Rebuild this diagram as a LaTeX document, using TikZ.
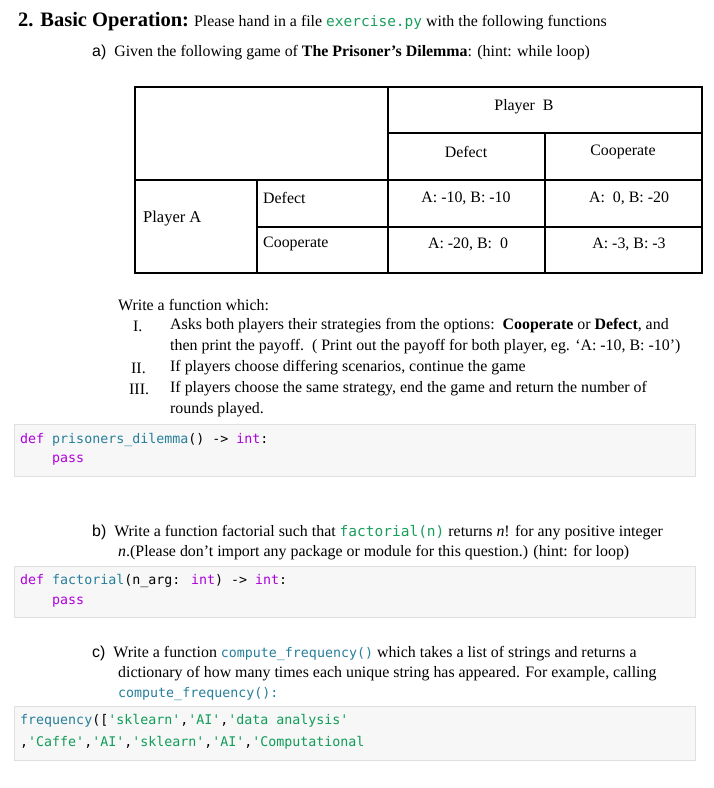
\documentclass[tikz,border=0pt]{standalone}
\usepackage{fontspec}
\setmainfont{Liberation Serif}
\newfontfamily\codefont{DejaVu Sans Mono}
\newfontfamily\arial{Liberation Sans}
\definecolor{kw}{HTML}{AF00DB}
\definecolor{fn}{HTML}{267F99}
\definecolor{st}{HTML}{0F9D58}
\definecolor{cg}{HTML}{1A9E5C}
\definecolor{cbg}{HTML}{F7F7F7}
\definecolor{cbd}{HTML}{E0E0E0}
\begin{document}
\begin{tikzpicture}[x=1pt,y=-1pt,
  txt/.style={anchor=west,inner sep=0pt,font=\fontsize{15.9}{18}\selectfont},
  cell/.style={anchor=center,inner sep=0pt,font=\fontsize{15.9}{18}\selectfont},
  code/.style={anchor=west,inner sep=0pt,font=\codefont\fontsize{13.3}{15}\selectfont},
  codebox/.style={fill=cbg,draw=cbd,line width=1pt},
  grid/.style={line width=1.3pt}]
\useasboundingbox (0,0) rectangle (714,788);
\node[txt] (title) at (18,22) {\fontsize{20.5}{23}\selectfont\textbf{2. Basic Operation:}\ \fontsize{15.9}{18}\selectfont Please hand in a file {\codefont\color{cg}\fontsize{14.5}{16}\selectfont exercise.py} with the following functions};
\node[txt] (a) at (92,52) {{\arial a)}\ \ Given the following game of \textbf{The Prisoner’s Dilemma}: (hint: while loop)};
% table
\draw[grid] (135,87) rectangle (702,273);
\draw[grid] (388,87) -- (388,273);
\draw[grid] (545,133) -- (545,273);
\draw[grid] (257,180) -- (257,273);
\draw[grid] (388,133) -- (702,133);
\draw[grid] (135,180) -- (702,180);
\draw[grid] (257,227) -- (702,227);
\node[cell] (pb) at (524,107) {Player\ \ B};
\node[cell] (cd) at (466,152) {Defect};
\node[cell] (cc) at (623,152) {Cooperate};
\node[txt] (pa) at (143,219) {\fontsize{16.5}{18}\selectfont Player A};
\node[txt] (rd) at (263,198) {Defect};
\node[txt] (rc) at (263,244) {Cooperate};
\node[cell] (v1) at (466,198) {A: -10, B: -10};
\node[cell] (v2) at (629,198) {A:\ \ 0, B: -20};
\node[cell] (v3) at (468,244) {A: -20, B:\ \ 0};
\node[cell] (v4) at (629,244) {A: -3, B: -3};
% list
\node[txt] (w) at (118,305) {Write a function which:};
\node[txt] (i1) at (133,326) {I.};
\node[txt] (t1) at (170,326) {Asks both players their strategies from the options:\ \ \textbf{Cooperate} or \textbf{Defect}, and};
\node[txt] (t1b) at (170,347) {then print the payoff.\ \ ( Print out the payoff for both player, eg. ‘A: -10, B: -10’)};
\node[txt] (i2) at (131,368) {II.};
\node[txt] (t2) at (170,368) {If players choose differing scenarios, continue the game};
\node[txt] (i3) at (129,389) {III.};
\node[txt] (t3) at (170,389) {If players choose the same strategy, end the game and return the number of};
\node[txt] (t3b) at (170,410) {rounds played.};
% code 1
\draw[codebox] (14,424) rectangle (695,476);
\node[code] (c1) at (20,440) {{\color{kw}def} {\color{fn}prisoners\_dilemma}() -> {\color{kw}int}:};
\node[code] (c1b) at (52,460) {\color{kw}pass};
% b
\node[txt] (b) at (92,532) {{\arial b)}\ \ Write a function factorial such that {\codefont\color{cg}\fontsize{14.5}{16}\selectfont factorial(n)} returns \textit{n}! for any positive integer};
\node[txt] (b2) at (118,553) {\textit{n}.(Please don’t import any package or module for this question.) (hint: for loop)};
\draw[codebox] (14,566) rectangle (695,617);
\node[code] (c2) at (20,581) {{\color{kw}def} {\color{fn}factorial}(n\_arg: {\color{kw}int}) -> {\color{kw}int}:};
\node[code] (c2b) at (52,602) {\color{kw}pass};
% c
\node[txt] (c) at (92,653) {{\arial c)}\ \ Write a function {\codefont\color{fn}\fontsize{13.3}{15}\selectfont compute\_frequency()} which takes a list of strings and returns a};
\node[txt] (c3) at (118,674) {dictionary of how many times each unique string has appeared. For example, calling};
\node[txt] (c4) at (118,694) {\codefont\color{fn}\fontsize{13.3}{15}\selectfont compute\_frequency():};
\draw[codebox] (14,706) rectangle (695,760);
\node[code] (c5) at (20,721) {{\color{fn}frequency}([{\color{st}'sklearn'},{\color{st}'AI'},{\color{st}'data analysis'}};
\node[code] (c6) at (20,743) {,{\color{st}'Caffe'},{\color{st}'AI'},{\color{st}'sklearn'},{\color{st}'AI'},{\color{st}'Computational}};
\end{tikzpicture}
\end{document}
